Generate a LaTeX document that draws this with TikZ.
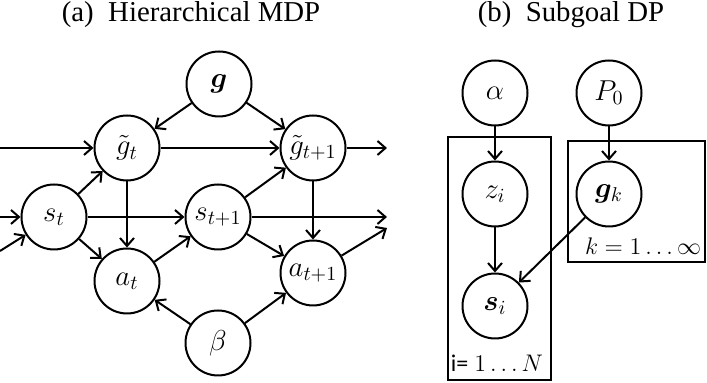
\documentclass[tikz,border=0pt]{standalone}
\usepackage{amsmath}
\usepackage{bm}
\usepackage[no-math]{fontspec}
\setmainfont{Liberation Serif}
\newfontfamily\calfont{Carlito}
\usepackage{tikz}
\usetikzlibrary{arrows.meta}

\begin{document}
\begin{tikzpicture}[x=0.5pt,y=-0.5pt,line width=1pt,
    var/.style={circle,draw,minimum size=32.5pt,inner sep=0pt,font=\Large},
    arr/.style={-{Straight Barb[length=4pt,width=7pt,line width=1pt]}},
    plate/.style={draw,line width=0.8pt},
    platelabel/.style={anchor=base east,inner sep=0pt,font=\large}]
\useasboundingbox (0,0) rectangle (707,383);

% (a) hierarchical MDP
\node[font=\Large] (titlea) at (191,15) {(a)\enspace Hierarchical MDP};
\node[var] (g) at (219,84) {$\bm{g}$};
\node[var] (gt) at (127,148) {$\tilde{g}_t$};
\node[var] (gt1) at (313,148) {$\tilde{g}_{t+1}$};
\node[var] (st) at (54,217) {$s_t$};
\node[var] (st1) at (218,217) {$s_{t+1}$};
\node[var] (at) at (127,281) {$a_t$};
\node[var] (at1) at (313,273) {$a_{t+1}$};
\node[var] (b) at (218,343) {$\beta$};

\coordinate (in1) at (0,148);
\coordinate (in2) at (0,217);
\coordinate (in3) at (0,251);
\coordinate (out1) at (387,148);
\coordinate (out2) at (387,217);
\coordinate (out3) at (387,228);

\draw[arr] (in1) -- (gt);
\draw[arr] (in2) -- (st);
\draw[arr] (in3) -- (st);
\draw[arr] (g) -- (gt);
\draw[arr] (g) -- (gt1);
\draw[arr] (gt) -- (gt1);
\draw[arr] (st) -- (gt);
\draw[arr] (st) -- (st1);
\draw[arr] (st) -- (at);
\draw[arr] (gt) -- (at);
\draw[arr] (at) -- (st1);
\draw[arr] (st1) -- (gt1);
\draw[arr] (st1) -- (at1);
\draw[arr] (gt1) -- (at1);
\draw[arr] (b) -- (at);
\draw[arr] (b) -- (at1);
\draw[arr] (gt1) -- (out1);
\draw[arr] (st1) -- (out2);
\draw[arr] (at1) -- (out3);

% (b) subgoal DP
\node[font=\Large] (titleb) at (571,15) {(b)\enspace Subgoal DP};
\node[var] (al) at (495,93) {$\alpha$};
\node[var] (p0) at (609,93) {$P_0$};
\node[var] (z) at (495,194) {$z_i$};
\node[var] (gk) at (609,194) {$\bm{g}_k$};
\node[var] (si) at (495,306) {$\bm{s}_i$};

\draw[plate] (448,137) rectangle (551,380);
\draw[plate] (568,141) rectangle (705,262);
\node[platelabel] (nlab) at (544,372) {{\calfont i=} $1\ldots N$};
\node[platelabel] (klab) at (702,255) {$k=1\ldots\infty$};

\draw[arr] (al) -- (z);
\draw[arr] (z) -- (si);
\draw[arr] (p0) -- (gk);
\draw[arr] (gk) -- (si);

\end{tikzpicture}
\end{document}
